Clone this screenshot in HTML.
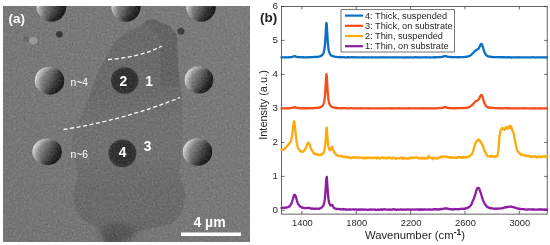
<!DOCTYPE html>
<html>
<head>
<meta charset="utf-8">
<title>Figure</title>
<style>
html,body{margin:0;padding:0;background:#fff;}
body{width:550px;height:245px;overflow:hidden;position:relative;font-family:"Liberation Sans",sans-serif;}
svg{position:absolute;left:0;top:0;display:block;}
text{font-family:"Liberation Sans",sans-serif;}
</style>
</head>
<body>
<svg width="550" height="245" viewBox="0 0 550 245">
<defs>
  <filter id="noise" x="0" y="0" width="100%" height="100%">
    <feTurbulence type="fractalNoise" baseFrequency="0.5" numOctaves="2" seed="4" result="n"/>
    <feColorMatrix in="n" type="matrix" values="0 0 0 0 0  0 0 0 0 0  0 0 0 0 0  0.2 0.2 0 0 -0.18" result="a"/>
    <feComposite in="a" in2="SourceGraphic" operator="in"/>
  </filter>
  <filter id="noiseW" x="0" y="0" width="100%" height="100%">
    <feTurbulence type="fractalNoise" baseFrequency="0.5" numOctaves="2" seed="11" result="n"/>
    <feColorMatrix in="n" type="matrix" values="0 0 0 0 1  0 0 0 0 1  0 0 0 0 1  0.2 0.2 0 0 -0.18" result="a"/>
    <feComposite in="a" in2="SourceGraphic" operator="in"/>
  </filter>
  <filter id="b1"><feGaussianBlur stdDeviation="0.55"/></filter>
  <filter id="b2"><feGaussianBlur stdDeviation="1.6"/></filter>
  <filter id="b3"><feGaussianBlur stdDeviation="3"/></filter>
  <linearGradient id="bg" x1="0" y1="1" x2="1" y2="0">
    <stop offset="0" stop-color="#747474"/>
    <stop offset="1" stop-color="#7b7b7b"/>
  </linearGradient>
  <linearGradient id="hole" x1="0.03" y1="0.28" x2="0.97" y2="0.72">
    <stop offset="0" stop-color="#c4c4c4"/>
    <stop offset="0.08" stop-color="#aeaeae"/>
    <stop offset="0.2" stop-color="#8e8e8e"/>
    <stop offset="0.38" stop-color="#727272"/>
    <stop offset="0.54" stop-color="#565656"/>
    <stop offset="0.68" stop-color="#3a3a3a"/>
    <stop offset="0.82" stop-color="#2b2b2b"/>
    <stop offset="1" stop-color="#242424"/>
  </linearGradient>
  <radialGradient id="lrim" cx="0.66" cy="0.57" r="0.68">
    <stop offset="0" stop-color="#fff" stop-opacity="0"/>
    <stop offset="0.62" stop-color="#fff" stop-opacity="0"/>
    <stop offset="0.85" stop-color="#fff" stop-opacity="0.26"/>
    <stop offset="1" stop-color="#fff" stop-opacity="0.55"/>
  </radialGradient>
  <radialGradient id="rim" cx="0.36" cy="0.38" r="0.68">
    <stop offset="0" stop-color="#000" stop-opacity="0"/>
    <stop offset="0.62" stop-color="#000" stop-opacity="0"/>
    <stop offset="1" stop-color="#000" stop-opacity="0.4"/>
  </radialGradient>
  <radialGradient id="holeT" cx="0.25" cy="0.45" r="0.9">
    <stop offset="0" stop-color="#8c8c8c"/>
    <stop offset="0.4" stop-color="#666"/>
    <stop offset="0.8" stop-color="#3a3a3a"/>
    <stop offset="1" stop-color="#2a2a2a"/>
  </radialGradient>
  <radialGradient id="dark" cx="0.5" cy="0.5" r="0.5">
    <stop offset="0" stop-color="#2b2b2b"/>
    <stop offset="0.8" stop-color="#2f2f2f"/>
    <stop offset="1" stop-color="#383838"/>
  </radialGradient>
  <linearGradient id="flk" gradientUnits="userSpaceOnUse" x1="0" y1="19" x2="0" y2="244">
    <stop offset="0" stop-color="#696969"/>
    <stop offset="0.33" stop-color="#6b6b6b"/>
    <stop offset="0.46" stop-color="#707070"/>
    <stop offset="0.62" stop-color="#6f6f6f"/>
    <stop offset="0.74" stop-color="#6b6b6b"/>
    <stop offset="1" stop-color="#686868"/>
  </linearGradient>
  <clipPath id="sem"><rect x="3" y="6" width="247" height="236"/></clipPath>
</defs>

<!-- SEM panel -->
<g clip-path="url(#sem)">
  <rect x="3" y="6" width="247" height="236" fill="url(#bg)"/>
  <!-- flake -->
  <g filter="url(#b1)">
    <path d="M98.7,70 L114.4,42.5 L126,32 L140.5,26.4 L145.7,20.4 L153.5,19 L160,22 L169,25.6 L177,34.7 L178.4,70 L182,96 L182.5,116 L182,142 L179,174 L186,194.7 L182,212 L172,224 L154.6,227.7 L132,233 L130,244 L104,244 L101,229.4 L87,222.5 L76.5,212 L73,195 L78,174 L72,150 L72,132 L80,118 L90,95 Z" fill="url(#flk)"/>
    <path d="M145,21 L153.5,19 L169,25.6 L177,34.7 L179,86 L160,86 L160,40 Z" fill="#5f5f5f" opacity="0.55"/>
  </g>
  <ellipse cx="118" cy="232" rx="19" ry="9" fill="#4c4c4c" opacity="0.6" filter="url(#b3)"/>
  <ellipse cx="113" cy="240" rx="8" ry="5" fill="#444" opacity="0.5" filter="url(#b2)"/>
  <!-- holes -->
  <g filter="url(#b1)">
    <ellipse cx="51.4" cy="6.5" rx="14.8" ry="15.2" fill="url(#hole)"/>
    <ellipse cx="51.4" cy="6.5" rx="14.8" ry="15.2" fill="url(#rim)"/>
    <ellipse cx="51.4" cy="6.5" rx="14.8" ry="15.2" fill="url(#lrim)"/>
    <ellipse cx="126" cy="6.5" rx="14.6" ry="15.2" fill="url(#hole)"/>
    <ellipse cx="126" cy="6.5" rx="14.6" ry="15.2" fill="url(#rim)"/>
    <ellipse cx="126" cy="6.5" rx="14.6" ry="15.2" fill="url(#lrim)"/>
    <ellipse cx="201" cy="6.5" rx="14.8" ry="15.2" fill="url(#hole)"/>
    <ellipse cx="201" cy="6.5" rx="14.8" ry="15.2" fill="url(#rim)"/>
    <ellipse cx="201" cy="6.5" rx="14.8" ry="15.2" fill="url(#lrim)"/>
    <ellipse cx="49.5" cy="80.7" rx="14.7" ry="14.0" fill="url(#hole)"/>
    <ellipse cx="49.5" cy="80.7" rx="14.7" ry="14.0" fill="url(#rim)"/>
    <ellipse cx="49.5" cy="80.7" rx="14.7" ry="14.0" fill="url(#lrim)"/>
    <ellipse cx="199" cy="79.9" rx="14.3" ry="13.6" fill="url(#hole)"/>
    <ellipse cx="199" cy="79.9" rx="14.3" ry="13.6" fill="url(#rim)"/>
    <ellipse cx="199" cy="79.9" rx="14.3" ry="13.6" fill="url(#lrim)"/>
    <ellipse cx="47.1" cy="151.8" rx="14.7" ry="13.2" fill="url(#hole)"/>
    <ellipse cx="47.1" cy="151.8" rx="14.7" ry="13.2" fill="url(#rim)"/>
    <ellipse cx="47.1" cy="151.8" rx="14.7" ry="13.2" fill="url(#lrim)"/>
    <ellipse cx="197.5" cy="152" rx="14.7" ry="13.8" fill="url(#hole)"/>
    <ellipse cx="197.5" cy="152" rx="14.7" ry="13.8" fill="url(#rim)"/>
    <ellipse cx="197.5" cy="152" rx="14.7" ry="13.8" fill="url(#lrim)"/>
    <ellipse cx="124.7" cy="80.5" rx="13.7" ry="13.3" fill="url(#dark)"/>
    <circle cx="122.4" cy="153.3" r="13.9" fill="url(#dark)"/>
    <circle cx="59.5" cy="34.2" r="3.3" fill="#363636"/>
    <circle cx="181" cy="31.3" r="3.5" fill="#3e3e3e"/>
    <ellipse cx="33.2" cy="40.6" rx="4.2" ry="3.8" fill="#aaa" opacity="0.7" filter="url(#b1)"/>
    <ellipse cx="26" cy="39.3" rx="3" ry="3.2" fill="#5c5c5c" opacity="0.55" filter="url(#b1)"/>
  </g>
  <rect x="3" y="6" width="247" height="236" fill="#000" filter="url(#noise)"/>
  <rect x="3" y="6" width="247" height="236" fill="#fff" filter="url(#noiseW)"/>
  <!-- dashed lines -->
  <path d="M108,59.5 Q140,57.5 162,46" fill="none" stroke="#fff" stroke-width="1.3" stroke-dasharray="4 2.6"/>
  <path d="M63.5,129.5 Q124,120 180,97.5" fill="none" stroke="#fff" stroke-width="1.3" stroke-dasharray="4 2.6"/>
  <!-- labels -->
  <g fill="#fff">
    <text x="8.5" y="22.5" font-size="13.5" font-weight="bold">(a)</text>
    <text x="70.5" y="85.5" font-size="10.3">n~4</text>
    <text x="70.5" y="158" font-size="10.3">n~6</text>
    <text x="123.4" y="85.9" font-size="13.8" font-weight="bold" text-anchor="middle">2</text>
    <text x="149" y="85.9" font-size="13.8" font-weight="bold" text-anchor="middle">1</text>
    <text x="122.7" y="157.3" font-size="13.8" font-weight="bold" text-anchor="middle">4</text>
    <text x="147.6" y="150.6" font-size="13.8" font-weight="bold" text-anchor="middle">3</text>
    <text x="209.5" y="227.4" font-size="14" font-weight="bold" text-anchor="middle">4 µm</text>
    <rect x="181" y="232.5" width="60" height="3.5"/>
  </g>
</g>

<!-- Chart panel -->
<g>
  <rect x="281.5" y="6.4" width="265.7" height="207.7" fill="#fff" stroke="#303030" stroke-width="0.75"/>
  <path d="M301.88,214.1 v-3.1 M301.88,6.4 v3.1 M356.25,214.1 v-3.1 M356.25,6.4 v3.1 M410.61,214.1 v-3.1 M410.61,6.4 v3.1 M464.97,214.1 v-3.1 M464.97,6.4 v3.1 M519.33,214.1 v-3.1 M519.33,6.4 v3.1 M281.5,210.40 h3.1 M547.2,210.40 h-3.1 M281.5,176.40 h3.1 M547.2,176.40 h-3.1 M281.5,142.40 h3.1 M547.2,142.40 h-3.1 M281.5,108.40 h3.1 M547.2,108.40 h-3.1 M281.5,74.40 h3.1 M547.2,74.40 h-3.1 M281.5,40.40 h3.1 M547.2,40.40 h-3.1 M281.5,6.40 h3.1 M547.2,6.40 h-3.1 " stroke="#303030" stroke-width="0.7" fill="none"/>
  <g fill="none" stroke-width="2.3" stroke-linejoin="round" stroke-linecap="round">
    <path d="M281.50,57.25 L281.91,57.38 L282.32,57.46 L282.72,57.36 L283.13,57.40 L283.54,57.38 L283.95,57.46 L284.35,57.46 L284.76,57.39 L285.17,57.21 L285.58,57.15 L285.98,57.33 L286.39,57.35 L286.80,57.36 L287.21,57.40 L287.62,57.38 L288.02,57.29 L288.43,57.27 L288.84,57.24 L289.25,57.22 L289.65,57.25 L290.06,57.14 L290.47,57.09 L290.88,57.16 L291.28,57.16 L291.69,57.05 L292.10,56.87 L292.51,56.82 L292.92,56.81 L293.32,56.59 L293.73,56.44 L294.14,56.33 L294.55,56.14 L294.95,56.12 L295.36,56.29 L295.77,56.47 L296.18,56.79 L296.58,56.91 L296.99,56.92 L297.40,57.14 L297.81,57.14 L298.22,57.07 L298.62,57.14 L299.03,57.26 L299.44,57.25 L299.85,57.22 L300.25,57.16 L300.66,57.13 L301.07,57.20 L301.48,57.19 L301.88,57.21 L302.29,57.32 L302.70,57.28 L303.11,57.21 L303.52,57.25 L303.92,57.32 L304.33,57.30 L304.74,57.38 L305.15,57.36 L305.55,57.20 L305.96,57.32 L306.37,57.34 L306.78,57.30 L307.19,57.26 L307.59,57.31 L308.00,57.39 L308.41,57.25 L308.82,57.14 L309.22,57.28 L309.63,57.36 L310.04,57.22 L310.45,57.22 L310.85,57.15 L311.26,57.17 L311.67,57.22 L312.08,57.20 L312.49,57.13 L312.89,57.07 L313.30,57.14 L313.71,57.21 L314.12,57.09 L314.52,56.94 L314.93,56.97 L315.34,56.92 L315.75,56.92 L316.15,56.98 L316.56,57.00 L316.97,56.97 L317.38,56.81 L317.79,56.79 L318.19,56.83 L318.60,56.71 L319.01,56.59 L319.42,56.45 L319.82,56.41 L320.23,56.40 L320.64,56.18 L321.05,55.83 L321.45,55.55 L321.86,55.30 L322.27,54.97 L322.68,54.47 L323.09,53.80 L323.49,52.86 L323.90,51.61 L324.31,49.79 L324.72,47.01 L325.12,42.82 L325.53,36.69 L325.94,28.86 L326.35,22.98 L326.75,24.38 L327.16,31.66 L327.57,39.12 L327.98,44.48 L328.39,48.06 L328.79,50.55 L329.20,52.14 L329.61,53.11 L330.02,54.06 L330.42,54.77 L330.83,55.20 L331.24,55.50 L331.65,55.71 L332.05,55.83 L332.46,56.05 L332.87,56.27 L333.28,56.37 L333.69,56.43 L334.09,56.48 L334.50,56.58 L334.91,56.74 L335.32,56.88 L335.72,56.91 L336.13,56.87 L336.54,56.83 L336.95,56.96 L337.35,57.05 L337.76,57.03 L338.17,57.07 L338.58,57.16 L338.99,57.12 L339.39,56.97 L339.80,57.02 L340.21,57.19 L340.62,57.25 L341.02,57.30 L341.43,57.23 L341.84,57.13 L342.25,57.16 L342.65,57.20 L343.06,57.20 L343.47,57.22 L343.88,57.31 L344.29,57.35 L344.69,57.27 L345.10,57.29 L345.51,57.33 L345.92,57.34 L346.32,57.34 L346.73,57.25 L347.14,57.26 L347.55,57.32 L347.96,57.26 L348.36,57.22 L348.77,57.18 L349.18,57.32 L349.59,57.37 L349.99,57.29 L350.40,57.33 L350.81,57.27 L351.22,57.22 L351.62,57.21 L352.03,57.26 L352.44,57.23 L352.85,57.26 L353.26,57.35 L353.66,57.30 L354.07,57.32 L354.48,57.25 L354.89,57.17 L355.29,57.17 L355.70,57.23 L356.11,57.36 L356.52,57.35 L356.92,57.30 L357.33,57.34 L357.74,57.36 L358.15,57.33 L358.56,57.27 L358.96,57.30 L359.37,57.33 L359.78,57.33 L360.19,57.43 L360.59,57.44 L361.00,57.45 L361.41,57.41 L361.82,57.30 L362.22,57.30 L362.63,57.32 L363.04,57.24 L363.45,57.26 L363.86,57.34 L364.26,57.36 L364.67,57.46 L365.08,57.40 L365.49,57.41 L365.89,57.42 L366.30,57.33 L366.71,57.31 L367.12,57.31 L367.52,57.41 L367.93,57.39 L368.34,57.38 L368.75,57.40 L369.16,57.37 L369.56,57.37 L369.97,57.38 L370.38,57.42 L370.79,57.42 L371.19,57.49 L371.60,57.49 L372.01,57.44 L372.42,57.37 L372.82,57.25 L373.23,57.40 L373.64,57.46 L374.05,57.37 L374.46,57.43 L374.86,57.40 L375.27,57.37 L375.68,57.49 L376.09,57.48 L376.49,57.39 L376.90,57.37 L377.31,57.43 L377.72,57.40 L378.12,57.30 L378.53,57.39 L378.94,57.47 L379.35,57.41 L379.76,57.41 L380.16,57.31 L380.57,57.27 L380.98,57.42 L381.39,57.47 L381.79,57.42 L382.20,57.26 L382.61,57.27 L383.02,57.38 L383.43,57.34 L383.83,57.35 L384.24,57.26 L384.65,57.29 L385.06,57.36 L385.46,57.33 L385.87,57.34 L386.28,57.40 L386.69,57.35 L387.09,57.29 L387.50,57.38 L387.91,57.42 L388.32,57.46 L388.73,57.38 L389.13,57.30 L389.54,57.29 L389.95,57.28 L390.36,57.28 L390.76,57.34 L391.17,57.33 L391.58,57.30 L391.99,57.35 L392.39,57.34 L392.80,57.27 L393.21,57.30 L393.62,57.38 L394.03,57.36 L394.43,57.24 L394.84,57.29 L395.25,57.39 L395.66,57.39 L396.06,57.32 L396.47,57.41 L396.88,57.45 L397.29,57.30 L397.69,57.36 L398.10,57.34 L398.51,57.27 L398.92,57.38 L399.33,57.39 L399.73,57.44 L400.14,57.48 L400.55,57.31 L400.96,57.33 L401.36,57.33 L401.77,57.28 L402.18,57.33 L402.59,57.32 L402.99,57.49 L403.40,57.52 L403.81,57.39 L404.22,57.42 L404.63,57.50 L405.03,57.42 L405.44,57.39 L405.85,57.49 L406.26,57.49 L406.66,57.36 L407.07,57.35 L407.48,57.35 L407.89,57.25 L408.29,57.29 L408.70,57.43 L409.11,57.50 L409.52,57.44 L409.93,57.33 L410.33,57.31 L410.74,57.33 L411.15,57.37 L411.56,57.38 L411.96,57.38 L412.37,57.41 L412.78,57.45 L413.19,57.52 L413.59,57.47 L414.00,57.45 L414.41,57.47 L414.82,57.38 L415.23,57.34 L415.63,57.22 L416.04,57.17 L416.45,57.35 L416.86,57.36 L417.26,57.31 L417.67,57.38 L418.08,57.34 L418.49,57.35 L418.89,57.56 L419.30,57.48 L419.71,57.35 L420.12,57.32 L420.53,57.32 L420.93,57.45 L421.34,57.34 L421.75,57.33 L422.16,57.40 L422.56,57.27 L422.97,57.28 L423.38,57.35 L423.79,57.35 L424.19,57.31 L424.60,57.35 L425.01,57.36 L425.42,57.29 L425.83,57.20 L426.23,57.25 L426.64,57.41 L427.05,57.35 L427.46,57.33 L427.86,57.35 L428.27,57.32 L428.68,57.27 L429.09,57.31 L429.50,57.37 L429.90,57.47 L430.31,57.51 L430.72,57.30 L431.13,57.28 L431.53,57.39 L431.94,57.42 L432.35,57.35 L432.76,57.28 L433.16,57.36 L433.57,57.33 L433.98,57.26 L434.39,57.25 L434.80,57.29 L435.20,57.23 L435.61,57.17 L436.02,57.26 L436.43,57.30 L436.83,57.29 L437.24,57.21 L437.65,57.20 L438.06,57.18 L438.46,57.12 L438.87,57.09 L439.28,57.05 L439.69,57.10 L440.10,57.21 L440.50,57.15 L440.91,56.97 L441.32,56.92 L441.73,56.87 L442.13,56.82 L442.54,56.77 L442.95,56.68 L443.36,56.46 L443.76,56.27 L444.17,56.25 L444.58,56.25 L444.99,56.22 L445.40,56.13 L445.80,56.20 L446.21,56.44 L446.62,56.52 L447.03,56.52 L447.43,56.65 L447.84,56.76 L448.25,56.82 L448.66,56.89 L449.06,56.95 L449.47,57.06 L449.88,57.05 L450.29,57.02 L450.70,57.01 L451.10,57.14 L451.51,57.22 L451.92,57.08 L452.33,57.14 L452.73,57.18 L453.14,57.12 L453.55,57.12 L453.96,57.19 L454.36,57.23 L454.77,57.15 L455.18,57.08 L455.59,57.12 L456.00,57.18 L456.40,57.18 L456.81,57.12 L457.22,57.18 L457.63,57.30 L458.03,57.23 L458.44,57.22 L458.85,57.25 L459.26,57.18 L459.66,57.12 L460.07,57.17 L460.48,57.14 L460.89,57.17 L461.30,57.17 L461.70,57.15 L462.11,57.23 L462.52,57.10 L462.93,57.04 L463.33,57.09 L463.74,57.08 L464.15,56.99 L464.56,56.94 L464.97,56.94 L465.37,56.85 L465.78,56.84 L466.19,56.87 L466.60,56.81 L467.00,56.66 L467.41,56.50 L467.82,56.40 L468.23,56.34 L468.63,56.29 L469.04,56.09 L469.45,55.93 L469.86,55.72 L470.27,55.43 L470.67,55.24 L471.08,54.98 L471.49,54.61 L471.90,54.15 L472.30,53.62 L472.71,53.29 L473.12,52.97 L473.53,52.62 L473.93,52.15 L474.34,51.58 L474.75,51.21 L475.16,50.77 L475.57,50.46 L475.97,50.23 L476.38,49.92 L476.79,49.78 L477.20,49.55 L477.60,49.21 L478.01,49.02 L478.42,48.74 L478.83,48.10 L479.23,47.36 L479.64,46.66 L480.05,45.81 L480.46,44.92 L480.87,44.24 L481.27,43.87 L481.68,44.02 L482.09,44.67 L482.50,45.72 L482.90,47.12 L483.31,48.53 L483.72,49.85 L484.13,51.11 L484.53,52.33 L484.94,53.25 L485.35,53.96 L485.76,54.55 L486.17,55.05 L486.57,55.50 L486.98,55.79 L487.39,55.97 L487.80,56.15 L488.20,56.39 L488.61,56.49 L489.02,56.59 L489.43,56.67 L489.83,56.71 L490.24,56.76 L490.65,56.71 L491.06,56.78 L491.47,56.92 L491.87,56.94 L492.28,56.93 L492.69,57.01 L493.10,57.11 L493.50,57.07 L493.91,57.03 L494.32,57.04 L494.73,57.12 L495.13,57.17 L495.54,57.14 L495.95,57.03 L496.36,57.05 L496.77,57.13 L497.17,57.13 L497.58,57.20 L497.99,57.25 L498.40,57.22 L498.80,57.20 L499.21,57.20 L499.62,57.28 L500.03,57.23 L500.43,57.09 L500.84,57.17 L501.25,57.24 L501.66,57.22 L502.07,57.20 L502.47,57.30 L502.88,57.26 L503.29,57.21 L503.70,57.23 L504.10,57.21 L504.51,57.30 L504.92,57.31 L505.33,57.25 L505.74,57.29 L506.14,57.36 L506.55,57.34 L506.96,57.41 L507.37,57.32 L507.77,57.21 L508.18,57.28 L508.59,57.25 L509.00,57.30 L509.40,57.37 L509.81,57.23 L510.22,57.18 L510.63,57.39 L511.04,57.61 L511.44,57.55 L511.85,57.33 L512.26,57.30 L512.67,57.37 L513.07,57.31 L513.48,57.35 L513.89,57.37 L514.30,57.29 L514.70,57.27 L515.11,57.30 L515.52,57.35 L515.93,57.35 L516.34,57.34 L516.74,57.30 L517.15,57.15 L517.56,57.25 L517.97,57.50 L518.37,57.48 L518.78,57.35 L519.19,57.28 L519.60,57.24 L520.00,57.34 L520.41,57.43 L520.82,57.33 L521.23,57.35 L521.64,57.36 L522.04,57.31 L522.45,57.33 L522.86,57.28 L523.27,57.28 L523.67,57.28 L524.08,57.37 L524.49,57.40 L524.90,57.35 L525.30,57.35 L525.71,57.28 L526.12,57.31 L526.53,57.41 L526.94,57.44 L527.34,57.42 L527.75,57.34 L528.16,57.37 L528.57,57.35 L528.97,57.29 L529.38,57.36 L529.79,57.45 L530.20,57.42 L530.60,57.32 L531.01,57.42 L531.42,57.40 L531.83,57.23 L532.24,57.27 L532.64,57.33 L533.05,57.22 L533.46,57.19 L533.87,57.36 L534.27,57.42 L534.68,57.38 L535.09,57.39 L535.50,57.50 L535.90,57.46 L536.31,57.37 L536.72,57.40 L537.13,57.37 L537.54,57.34 L537.94,57.35 L538.35,57.43 L538.76,57.39 L539.17,57.28 L539.57,57.32 L539.98,57.32 L540.39,57.29 L540.80,57.39 L541.20,57.33 L541.61,57.34 L542.02,57.37 L542.43,57.35 L542.84,57.38 L543.24,57.42 L543.65,57.49 L544.06,57.37 L544.47,57.32 L544.87,57.37 L545.28,57.40 L545.69,57.38 L546.10,57.43 L546.50,57.51 L546.91,57.45" stroke="#0A70C4"/>
    <path d="M281.50,108.40 L281.91,108.43 L282.32,108.39 L282.72,108.36 L283.13,108.37 L283.54,108.27 L283.95,108.21 L284.35,108.23 L284.76,108.28 L285.17,108.36 L285.58,108.43 L285.98,108.42 L286.39,108.45 L286.80,108.45 L287.21,108.30 L287.62,108.18 L288.02,108.16 L288.43,108.28 L288.84,108.29 L289.25,108.27 L289.65,108.24 L290.06,108.18 L290.47,108.16 L290.88,107.99 L291.28,107.94 L291.69,107.90 L292.10,107.87 L292.51,107.91 L292.92,107.73 L293.32,107.47 L293.73,107.39 L294.14,107.30 L294.55,107.24 L294.95,107.27 L295.36,107.29 L295.77,107.46 L296.18,107.71 L296.58,107.92 L296.99,107.98 L297.40,107.95 L297.81,108.00 L298.22,108.07 L298.62,108.20 L299.03,108.15 L299.44,108.11 L299.85,108.23 L300.25,108.20 L300.66,108.31 L301.07,108.36 L301.48,108.26 L301.88,108.25 L302.29,108.17 L302.70,108.17 L303.11,108.34 L303.52,108.38 L303.92,108.27 L304.33,108.25 L304.74,108.32 L305.15,108.42 L305.55,108.32 L305.96,108.22 L306.37,108.24 L306.78,108.34 L307.19,108.25 L307.59,108.30 L308.00,108.41 L308.41,108.15 L308.82,108.13 L309.22,108.22 L309.63,108.27 L310.04,108.20 L310.45,108.20 L310.85,108.25 L311.26,108.17 L311.67,108.22 L312.08,108.17 L312.49,108.18 L312.89,108.24 L313.30,108.16 L313.71,108.13 L314.12,108.08 L314.52,108.00 L314.93,108.01 L315.34,108.06 L315.75,108.05 L316.15,108.01 L316.56,107.90 L316.97,107.86 L317.38,107.83 L317.79,107.77 L318.19,107.78 L318.60,107.66 L319.01,107.59 L319.42,107.54 L319.82,107.30 L320.23,107.23 L320.64,107.15 L321.05,106.98 L321.45,106.76 L321.86,106.45 L322.27,106.06 L322.68,105.51 L323.09,104.82 L323.49,103.80 L323.90,102.51 L324.31,100.71 L324.72,97.98 L325.12,93.86 L325.53,87.78 L325.94,80.13 L326.35,74.27 L326.75,75.45 L327.16,82.52 L327.57,90.01 L327.98,95.37 L328.39,98.99 L328.79,101.51 L329.20,103.18 L329.61,104.34 L330.02,105.11 L330.42,105.56 L330.83,106.02 L331.24,106.53 L331.65,106.82 L332.05,107.01 L332.46,107.24 L332.87,107.38 L333.28,107.38 L333.69,107.47 L334.09,107.57 L334.50,107.72 L334.91,107.91 L335.32,107.83 L335.72,107.74 L336.13,107.93 L336.54,108.01 L336.95,107.96 L337.35,107.98 L337.76,108.00 L338.17,108.07 L338.58,108.10 L338.99,108.08 L339.39,108.11 L339.80,108.23 L340.21,108.40 L340.62,108.36 L341.02,108.30 L341.43,108.26 L341.84,108.15 L342.25,108.16 L342.65,108.22 L343.06,108.24 L343.47,108.17 L343.88,108.22 L344.29,108.24 L344.69,108.17 L345.10,108.21 L345.51,108.18 L345.92,108.23 L346.32,108.27 L346.73,108.28 L347.14,108.37 L347.55,108.38 L347.96,108.32 L348.36,108.32 L348.77,108.35 L349.18,108.36 L349.59,108.31 L349.99,108.16 L350.40,108.21 L350.81,108.22 L351.22,108.21 L351.62,108.18 L352.03,108.21 L352.44,108.40 L352.85,108.33 L353.26,108.26 L353.66,108.39 L354.07,108.42 L354.48,108.45 L354.89,108.43 L355.29,108.40 L355.70,108.32 L356.11,108.23 L356.52,108.39 L356.92,108.50 L357.33,108.45 L357.74,108.47 L358.15,108.45 L358.56,108.36 L358.96,108.39 L359.37,108.42 L359.78,108.35 L360.19,108.25 L360.59,108.20 L361.00,108.28 L361.41,108.31 L361.82,108.35 L362.22,108.37 L362.63,108.39 L363.04,108.37 L363.45,108.38 L363.86,108.47 L364.26,108.41 L364.67,108.33 L365.08,108.41 L365.49,108.46 L365.89,108.38 L366.30,108.34 L366.71,108.39 L367.12,108.40 L367.52,108.37 L367.93,108.31 L368.34,108.27 L368.75,108.41 L369.16,108.55 L369.56,108.47 L369.97,108.30 L370.38,108.30 L370.79,108.31 L371.19,108.35 L371.60,108.46 L372.01,108.40 L372.42,108.33 L372.82,108.33 L373.23,108.41 L373.64,108.43 L374.05,108.39 L374.46,108.36 L374.86,108.36 L375.27,108.43 L375.68,108.43 L376.09,108.34 L376.49,108.31 L376.90,108.41 L377.31,108.46 L377.72,108.48 L378.12,108.35 L378.53,108.39 L378.94,108.51 L379.35,108.38 L379.76,108.28 L380.16,108.32 L380.57,108.34 L380.98,108.30 L381.39,108.29 L381.79,108.32 L382.20,108.29 L382.61,108.28 L383.02,108.28 L383.43,108.35 L383.83,108.38 L384.24,108.39 L384.65,108.51 L385.06,108.42 L385.46,108.39 L385.87,108.39 L386.28,108.40 L386.69,108.35 L387.09,108.29 L387.50,108.43 L387.91,108.42 L388.32,108.32 L388.73,108.37 L389.13,108.38 L389.54,108.24 L389.95,108.22 L390.36,108.33 L390.76,108.40 L391.17,108.37 L391.58,108.42 L391.99,108.60 L392.39,108.56 L392.80,108.46 L393.21,108.34 L393.62,108.27 L394.03,108.41 L394.43,108.48 L394.84,108.40 L395.25,108.39 L395.66,108.44 L396.06,108.40 L396.47,108.37 L396.88,108.36 L397.29,108.36 L397.69,108.30 L398.10,108.22 L398.51,108.37 L398.92,108.32 L399.33,108.23 L399.73,108.30 L400.14,108.34 L400.55,108.39 L400.96,108.34 L401.36,108.35 L401.77,108.32 L402.18,108.29 L402.59,108.39 L402.99,108.42 L403.40,108.34 L403.81,108.29 L404.22,108.35 L404.63,108.40 L405.03,108.39 L405.44,108.43 L405.85,108.49 L406.26,108.35 L406.66,108.31 L407.07,108.38 L407.48,108.40 L407.89,108.34 L408.29,108.21 L408.70,108.29 L409.11,108.35 L409.52,108.38 L409.93,108.31 L410.33,108.23 L410.74,108.36 L411.15,108.34 L411.56,108.28 L411.96,108.32 L412.37,108.32 L412.78,108.38 L413.19,108.42 L413.59,108.36 L414.00,108.33 L414.41,108.41 L414.82,108.30 L415.23,108.27 L415.63,108.40 L416.04,108.42 L416.45,108.36 L416.86,108.27 L417.26,108.30 L417.67,108.30 L418.08,108.39 L418.49,108.45 L418.89,108.40 L419.30,108.38 L419.71,108.33 L420.12,108.43 L420.53,108.30 L420.93,108.24 L421.34,108.38 L421.75,108.29 L422.16,108.27 L422.56,108.29 L422.97,108.49 L423.38,108.55 L423.79,108.37 L424.19,108.36 L424.60,108.45 L425.01,108.52 L425.42,108.40 L425.83,108.26 L426.23,108.36 L426.64,108.39 L427.05,108.35 L427.46,108.40 L427.86,108.41 L428.27,108.34 L428.68,108.29 L429.09,108.24 L429.50,108.27 L429.90,108.35 L430.31,108.33 L430.72,108.34 L431.13,108.42 L431.53,108.33 L431.94,108.28 L432.35,108.33 L432.76,108.27 L433.16,108.33 L433.57,108.33 L433.98,108.24 L434.39,108.28 L434.80,108.28 L435.20,108.30 L435.61,108.43 L436.02,108.40 L436.43,108.32 L436.83,108.26 L437.24,108.19 L437.65,108.24 L438.06,108.24 L438.46,108.13 L438.87,108.06 L439.28,108.08 L439.69,108.09 L440.10,108.10 L440.50,108.09 L440.91,108.00 L441.32,107.94 L441.73,107.89 L442.13,107.86 L442.54,107.86 L442.95,107.78 L443.36,107.59 L443.76,107.30 L444.17,107.10 L444.58,107.14 L444.99,107.27 L445.40,107.23 L445.80,107.23 L446.21,107.47 L446.62,107.57 L447.03,107.61 L447.43,107.69 L447.84,107.77 L448.25,107.86 L448.66,107.91 L449.06,108.05 L449.47,108.11 L449.88,108.13 L450.29,108.10 L450.70,108.13 L451.10,108.27 L451.51,108.20 L451.92,108.07 L452.33,108.04 L452.73,108.05 L453.14,108.21 L453.55,108.30 L453.96,108.25 L454.36,108.22 L454.77,108.30 L455.18,108.30 L455.59,108.18 L456.00,108.22 L456.40,108.23 L456.81,108.12 L457.22,108.12 L457.63,108.12 L458.03,108.07 L458.44,108.09 L458.85,108.12 L459.26,108.15 L459.66,108.10 L460.07,108.10 L460.48,108.19 L460.89,108.12 L461.30,108.11 L461.70,108.11 L462.11,108.01 L462.52,108.01 L462.93,108.04 L463.33,107.98 L463.74,107.93 L464.15,108.03 L464.56,108.11 L464.97,107.93 L465.37,107.81 L465.78,107.94 L466.19,107.98 L466.60,107.82 L467.00,107.74 L467.41,107.64 L467.82,107.49 L468.23,107.38 L468.63,107.31 L469.04,107.15 L469.45,106.81 L469.86,106.68 L470.27,106.48 L470.67,106.12 L471.08,105.85 L471.49,105.57 L471.90,105.30 L472.30,104.94 L472.71,104.42 L473.12,103.88 L473.53,103.39 L473.93,102.93 L474.34,102.49 L474.75,102.13 L475.16,101.84 L475.57,101.47 L475.97,101.10 L476.38,100.88 L476.79,100.79 L477.20,100.63 L477.60,100.40 L478.01,100.07 L478.42,99.64 L478.83,99.12 L479.23,98.38 L479.64,97.57 L480.05,96.66 L480.46,95.88 L480.87,95.39 L481.27,94.96 L481.68,94.95 L482.09,95.63 L482.50,96.79 L482.90,98.18 L483.31,99.58 L483.72,101.03 L484.13,102.30 L484.53,103.30 L484.94,104.24 L485.35,104.94 L485.76,105.62 L486.17,106.24 L486.57,106.50 L486.98,106.81 L487.39,107.15 L487.80,107.37 L488.20,107.49 L488.61,107.45 L489.02,107.48 L489.43,107.61 L489.83,107.72 L490.24,107.75 L490.65,107.77 L491.06,107.90 L491.47,107.96 L491.87,107.94 L492.28,107.89 L492.69,107.93 L493.10,107.98 L493.50,107.90 L493.91,107.99 L494.32,108.17 L494.73,108.10 L495.13,108.03 L495.54,108.10 L495.95,108.12 L496.36,108.14 L496.77,108.14 L497.17,108.15 L497.58,108.15 L497.99,108.20 L498.40,108.29 L498.80,108.24 L499.21,108.23 L499.62,108.20 L500.03,108.19 L500.43,108.26 L500.84,108.25 L501.25,108.26 L501.66,108.35 L502.07,108.39 L502.47,108.35 L502.88,108.33 L503.29,108.28 L503.70,108.22 L504.10,108.20 L504.51,108.16 L504.92,108.12 L505.33,108.23 L505.74,108.21 L506.14,108.15 L506.55,108.26 L506.96,108.30 L507.37,108.23 L507.77,108.23 L508.18,108.24 L508.59,108.23 L509.00,108.25 L509.40,108.29 L509.81,108.31 L510.22,108.31 L510.63,108.30 L511.04,108.37 L511.44,108.39 L511.85,108.24 L512.26,108.23 L512.67,108.30 L513.07,108.30 L513.48,108.34 L513.89,108.42 L514.30,108.39 L514.70,108.36 L515.11,108.29 L515.52,108.33 L515.93,108.33 L516.34,108.37 L516.74,108.46 L517.15,108.38 L517.56,108.28 L517.97,108.32 L518.37,108.48 L518.78,108.43 L519.19,108.33 L519.60,108.40 L520.00,108.46 L520.41,108.44 L520.82,108.38 L521.23,108.31 L521.64,108.39 L522.04,108.31 L522.45,108.24 L522.86,108.37 L523.27,108.34 L523.67,108.32 L524.08,108.23 L524.49,108.18 L524.90,108.32 L525.30,108.40 L525.71,108.40 L526.12,108.40 L526.53,108.34 L526.94,108.36 L527.34,108.31 L527.75,108.28 L528.16,108.37 L528.57,108.32 L528.97,108.42 L529.38,108.51 L529.79,108.38 L530.20,108.33 L530.60,108.37 L531.01,108.35 L531.42,108.38 L531.83,108.41 L532.24,108.45 L532.64,108.53 L533.05,108.40 L533.46,108.35 L533.87,108.45 L534.27,108.33 L534.68,108.24 L535.09,108.34 L535.50,108.42 L535.90,108.40 L536.31,108.42 L536.72,108.39 L537.13,108.34 L537.54,108.36 L537.94,108.33 L538.35,108.30 L538.76,108.24 L539.17,108.20 L539.57,108.38 L539.98,108.42 L540.39,108.39 L540.80,108.50 L541.20,108.41 L541.61,108.37 L542.02,108.43 L542.43,108.34 L542.84,108.36 L543.24,108.46 L543.65,108.41 L544.06,108.30 L544.47,108.29 L544.87,108.43 L545.28,108.49 L545.69,108.42 L546.10,108.29 L546.50,108.23 L546.91,108.29" stroke="#F64C18"/>
    <path d="M281.50,149.77 L281.91,149.77 L282.32,149.87 L282.72,149.59 L283.13,149.81 L283.54,149.78 L283.95,149.21 L284.35,149.21 L284.76,148.85 L285.17,148.06 L285.58,147.60 L285.98,147.52 L286.39,147.27 L286.80,146.25 L287.21,145.60 L287.62,145.65 L288.02,145.32 L288.43,144.34 L288.84,143.98 L289.25,143.78 L289.65,142.67 L290.06,142.20 L290.47,142.11 L290.88,141.37 L291.28,140.18 L291.69,137.78 L292.10,135.25 L292.51,132.80 L292.92,129.35 L293.32,125.33 L293.73,122.03 L294.14,121.27 L294.55,122.81 L294.95,126.24 L295.36,130.65 L295.77,134.66 L296.18,138.28 L296.58,141.50 L296.99,144.06 L297.40,145.68 L297.81,147.39 L298.22,148.59 L298.62,149.03 L299.03,149.49 L299.44,150.15 L299.85,150.84 L300.25,151.10 L300.66,151.45 L301.07,151.68 L301.48,151.48 L301.88,151.38 L302.29,151.69 L302.70,151.73 L303.11,151.81 L303.52,151.30 L303.92,150.61 L304.33,150.33 L304.74,149.95 L305.15,149.39 L305.55,148.26 L305.96,147.10 L306.37,146.51 L306.78,145.44 L307.19,144.05 L307.59,143.48 L308.00,142.68 L308.41,142.38 L308.82,142.88 L309.22,143.76 L309.63,144.73 L310.04,145.78 L310.45,147.11 L310.85,148.51 L311.26,149.62 L311.67,150.20 L312.08,150.55 L312.49,151.31 L312.89,151.84 L313.30,152.31 L313.71,153.30 L314.12,153.49 L314.52,153.75 L314.93,154.05 L315.34,153.77 L315.75,154.11 L316.15,154.53 L316.56,153.99 L316.97,154.01 L317.38,154.60 L317.79,154.52 L318.19,154.64 L318.60,154.86 L319.01,154.74 L319.42,155.26 L319.82,154.96 L320.23,154.58 L320.64,155.07 L321.05,154.56 L321.45,154.13 L321.86,154.34 L322.27,154.03 L322.68,153.66 L323.09,153.43 L323.49,152.92 L323.90,152.13 L324.31,150.51 L324.72,148.56 L325.12,145.91 L325.53,141.51 L325.94,135.37 L326.35,129.06 L326.75,127.66 L327.16,132.52 L327.57,138.93 L327.98,143.83 L328.39,146.68 L328.79,148.38 L329.20,149.24 L329.61,149.81 L330.02,150.11 L330.42,150.14 L330.83,149.81 L331.24,148.70 L331.65,147.33 L332.05,146.59 L332.46,147.14 L332.87,148.78 L333.28,150.05 L333.69,150.90 L334.09,152.31 L334.50,152.95 L334.91,152.98 L335.32,153.20 L335.72,153.95 L336.13,154.94 L336.54,154.74 L336.95,155.08 L337.35,155.64 L337.76,155.65 L338.17,155.88 L338.58,156.23 L338.99,156.18 L339.39,155.63 L339.80,155.59 L340.21,155.82 L340.62,156.12 L341.02,155.98 L341.43,155.86 L341.84,156.04 L342.25,156.61 L342.65,156.85 L343.06,156.83 L343.47,156.89 L343.88,156.64 L344.29,157.04 L344.69,157.11 L345.10,156.61 L345.51,156.59 L345.92,156.77 L346.32,157.14 L346.73,157.48 L347.14,157.58 L347.55,157.42 L347.96,156.91 L348.36,156.88 L348.77,157.19 L349.18,157.59 L349.59,157.51 L349.99,157.33 L350.40,157.91 L350.81,158.29 L351.22,157.95 L351.62,157.77 L352.03,157.32 L352.44,157.12 L352.85,157.78 L353.26,157.92 L353.66,157.32 L354.07,157.44 L354.48,157.66 L354.89,157.34 L355.29,157.19 L355.70,157.19 L356.11,157.64 L356.52,157.66 L356.92,157.56 L357.33,157.47 L357.74,157.51 L358.15,157.28 L358.56,157.30 L358.96,157.68 L359.37,157.82 L359.78,157.90 L360.19,157.75 L360.59,157.75 L361.00,157.55 L361.41,157.73 L361.82,158.15 L362.22,157.77 L362.63,157.64 L363.04,158.07 L363.45,157.74 L363.86,157.40 L364.26,158.31 L364.67,158.59 L365.08,157.78 L365.49,157.50 L365.89,157.82 L366.30,157.65 L366.71,157.72 L367.12,158.15 L367.52,157.94 L367.93,157.89 L368.34,157.73 L368.75,157.50 L369.16,157.70 L369.56,157.62 L369.97,157.77 L370.38,158.16 L370.79,157.59 L371.19,157.52 L371.60,157.68 L372.01,157.81 L372.42,158.13 L372.82,158.06 L373.23,157.96 L373.64,158.02 L374.05,158.06 L374.46,157.82 L374.86,157.54 L375.27,157.68 L375.68,157.81 L376.09,157.62 L376.49,158.04 L376.90,158.63 L377.31,157.99 L377.72,157.31 L378.12,157.68 L378.53,157.91 L378.94,158.15 L379.35,158.57 L379.76,158.27 L380.16,158.30 L380.57,158.16 L380.98,157.97 L381.39,158.12 L381.79,157.50 L382.20,157.13 L382.61,157.65 L383.02,157.85 L383.43,158.03 L383.83,158.42 L384.24,158.09 L384.65,157.63 L385.06,157.86 L385.46,158.06 L385.87,157.90 L386.28,158.33 L386.69,158.39 L387.09,157.73 L387.50,157.73 L387.91,157.96 L388.32,157.75 L388.73,158.04 L389.13,157.95 L389.54,157.42 L389.95,157.33 L390.36,157.38 L390.76,157.87 L391.17,158.32 L391.58,158.40 L391.99,158.48 L392.39,158.48 L392.80,158.03 L393.21,157.50 L393.62,157.89 L394.03,158.04 L394.43,158.19 L394.84,158.46 L395.25,158.40 L395.66,158.71 L396.06,158.47 L396.47,158.06 L396.88,158.17 L397.29,158.32 L397.69,158.46 L398.10,158.36 L398.51,158.27 L398.92,158.19 L399.33,158.33 L399.73,158.34 L400.14,157.93 L400.55,157.69 L400.96,157.56 L401.36,157.81 L401.77,158.23 L402.18,158.71 L402.59,158.55 L402.99,157.78 L403.40,157.38 L403.81,158.32 L404.22,158.90 L404.63,158.38 L405.03,158.45 L405.44,158.32 L405.85,158.07 L406.26,158.23 L406.66,158.25 L407.07,158.51 L407.48,158.73 L407.89,158.57 L408.29,158.12 L408.70,158.30 L409.11,158.56 L409.52,157.99 L409.93,157.95 L410.33,157.95 L410.74,158.09 L411.15,158.18 L411.56,157.81 L411.96,157.38 L412.37,157.43 L412.78,157.62 L413.19,157.79 L413.59,158.10 L414.00,157.73 L414.41,157.62 L414.82,157.65 L415.23,157.62 L415.63,157.46 L416.04,157.06 L416.45,157.76 L416.86,157.89 L417.26,157.59 L417.67,157.91 L418.08,158.04 L418.49,157.99 L418.89,158.22 L419.30,158.57 L419.71,158.49 L420.12,158.24 L420.53,157.84 L420.93,157.74 L421.34,157.87 L421.75,158.18 L422.16,158.69 L422.56,158.45 L422.97,158.00 L423.38,158.01 L423.79,157.70 L424.19,157.83 L424.60,158.22 L425.01,158.73 L425.42,158.55 L425.83,158.01 L426.23,158.32 L426.64,158.21 L427.05,158.29 L427.46,158.51 L427.86,157.78 L428.27,157.14 L428.68,155.90 L429.09,156.42 L429.50,157.67 L429.90,157.93 L430.31,157.54 L430.72,157.60 L431.13,157.97 L431.53,158.00 L431.94,158.26 L432.35,158.79 L432.76,159.16 L433.16,158.21 L433.57,157.39 L433.98,157.86 L434.39,158.22 L434.80,157.96 L435.20,158.18 L435.61,157.89 L436.02,157.88 L436.43,158.46 L436.83,158.85 L437.24,158.29 L437.65,157.58 L438.06,157.52 L438.46,157.72 L438.87,157.98 L439.28,157.67 L439.69,157.64 L440.10,157.09 L440.50,156.52 L440.91,156.61 L441.32,157.16 L441.73,157.19 L442.13,156.69 L442.54,156.68 L442.95,156.78 L443.36,156.72 L443.76,157.00 L444.17,156.99 L444.58,156.34 L444.99,156.59 L445.40,156.92 L445.80,156.47 L446.21,156.81 L446.62,157.05 L447.03,157.15 L447.43,157.30 L447.84,157.27 L448.25,157.39 L448.66,157.23 L449.06,157.15 L449.47,157.15 L449.88,157.73 L450.29,157.37 L450.70,156.94 L451.10,157.64 L451.51,157.78 L451.92,157.51 L452.33,157.64 L452.73,157.86 L453.14,157.77 L453.55,157.57 L453.96,157.65 L454.36,157.69 L454.77,157.44 L455.18,157.58 L455.59,157.37 L456.00,157.32 L456.40,157.89 L456.81,157.81 L457.22,157.49 L457.63,157.55 L458.03,157.50 L458.44,156.91 L458.85,156.89 L459.26,157.32 L459.66,157.41 L460.07,157.18 L460.48,157.11 L460.89,157.59 L461.30,157.84 L461.70,157.50 L462.11,157.01 L462.52,157.48 L462.93,157.81 L463.33,157.25 L463.74,156.81 L464.15,157.25 L464.56,157.57 L464.97,157.03 L465.37,157.03 L465.78,157.31 L466.19,157.28 L466.60,157.44 L467.00,157.26 L467.41,156.82 L467.82,157.11 L468.23,157.08 L468.63,156.38 L469.04,156.23 L469.45,156.10 L469.86,156.07 L470.27,155.70 L470.67,155.41 L471.08,154.85 L471.49,154.21 L471.90,154.14 L472.30,153.42 L472.71,152.37 L473.12,151.17 L473.53,150.00 L473.93,148.66 L474.34,146.98 L474.75,145.35 L475.16,144.28 L475.57,142.98 L475.97,142.04 L476.38,141.66 L476.79,140.99 L477.20,140.15 L477.60,140.03 L478.01,140.50 L478.42,139.99 L478.83,139.52 L479.23,139.83 L479.64,140.94 L480.05,141.63 L480.46,141.48 L480.87,141.91 L481.27,143.03 L481.68,143.77 L482.09,144.54 L482.50,145.61 L482.90,145.67 L483.31,146.27 L483.72,148.25 L484.13,149.90 L484.53,150.54 L484.94,151.37 L485.35,152.28 L485.76,153.12 L486.17,154.02 L486.57,154.41 L486.98,155.10 L487.39,156.01 L487.80,156.36 L488.20,156.32 L488.61,156.28 L489.02,156.28 L489.43,156.36 L489.83,156.31 L490.24,156.58 L490.65,156.42 L491.06,155.77 L491.47,156.04 L491.87,156.49 L492.28,156.29 L492.69,156.19 L493.10,156.45 L493.50,156.65 L493.91,156.87 L494.32,157.10 L494.73,156.76 L495.13,156.19 L495.54,156.57 L495.95,156.81 L496.36,156.39 L496.77,156.23 L497.17,155.96 L497.58,155.07 L497.99,153.53 L498.40,150.31 L498.80,145.59 L499.21,139.63 L499.62,135.12 L500.03,133.42 L500.43,130.79 L500.84,130.04 L501.25,130.04 L501.66,128.73 L502.07,128.29 L502.47,127.91 L502.88,128.87 L503.29,129.22 L503.70,128.84 L504.10,128.76 L504.51,129.17 L504.92,129.95 L505.33,128.69 L505.74,127.25 L506.14,127.48 L506.55,127.74 L506.96,127.90 L507.37,128.28 L507.77,128.97 L508.18,127.87 L508.59,126.27 L509.00,126.54 L509.40,127.11 L509.81,127.98 L510.22,126.98 L510.63,125.96 L511.04,126.33 L511.44,127.22 L511.85,129.10 L512.26,130.63 L512.67,130.89 L513.07,132.09 L513.48,133.11 L513.89,133.88 L514.30,136.89 L514.70,139.34 L515.11,141.31 L515.52,143.00 L515.93,145.27 L516.34,147.28 L516.74,148.52 L517.15,149.95 L517.56,151.01 L517.97,151.45 L518.37,151.86 L518.78,151.98 L519.19,152.64 L519.60,153.93 L520.00,153.85 L520.41,153.72 L520.82,154.17 L521.23,155.00 L521.64,154.78 L522.04,154.33 L522.45,154.74 L522.86,155.16 L523.27,155.22 L523.67,155.33 L524.08,155.58 L524.49,155.59 L524.90,155.39 L525.30,155.54 L525.71,156.00 L526.12,155.69 L526.53,155.62 L526.94,155.94 L527.34,156.11 L527.75,155.92 L528.16,156.07 L528.57,156.22 L528.97,155.62 L529.38,155.68 L529.79,156.38 L530.20,156.79 L530.60,156.60 L531.01,156.63 L531.42,157.07 L531.83,156.98 L532.24,156.88 L532.64,156.52 L533.05,156.62 L533.46,156.47 L533.87,156.32 L534.27,156.68 L534.68,156.36 L535.09,156.35 L535.50,156.35 L535.90,156.65 L536.31,157.37 L536.72,157.20 L537.13,157.07 L537.54,157.17 L537.94,156.55 L538.35,156.47 L538.76,156.85 L539.17,157.08 L539.57,157.01 L539.98,156.79 L540.39,157.10 L540.80,157.00 L541.20,156.89 L541.61,156.91 L542.02,156.77 L542.43,156.59 L542.84,156.28 L543.24,156.52 L543.65,156.75 L544.06,156.66 L544.47,156.31 L544.87,156.16 L545.28,156.45 L545.69,156.63 L546.10,156.30 L546.50,156.76 L546.91,157.01" stroke="#FDAA0C"/>
    <path d="M281.50,207.89 L281.91,207.66 L282.32,207.85 L282.72,207.93 L283.13,207.76 L283.54,207.85 L283.95,207.77 L284.35,207.58 L284.76,207.73 L285.17,207.75 L285.58,207.54 L285.98,207.53 L286.39,207.64 L286.80,207.39 L287.21,207.33 L287.62,207.35 L288.02,206.98 L288.43,206.74 L288.84,206.81 L289.25,206.64 L289.65,206.11 L290.06,205.66 L290.47,205.05 L290.88,204.34 L291.28,203.62 L291.69,202.72 L292.10,201.54 L292.51,200.19 L292.92,199.10 L293.32,197.55 L293.73,196.05 L294.14,195.13 L294.55,194.70 L294.95,194.95 L295.36,195.63 L295.77,196.65 L296.18,197.83 L296.58,199.38 L296.99,200.84 L297.40,202.00 L297.81,203.11 L298.22,204.08 L298.62,204.79 L299.03,205.25 L299.44,205.68 L299.85,206.32 L300.25,206.64 L300.66,206.75 L301.07,206.90 L301.48,207.22 L301.88,207.50 L302.29,207.37 L302.70,207.57 L303.11,207.92 L303.52,207.91 L303.92,207.98 L304.33,208.08 L304.74,208.10 L305.15,208.19 L305.55,208.04 L305.96,207.98 L306.37,208.15 L306.78,208.10 L307.19,207.98 L307.59,207.89 L308.00,207.77 L308.41,207.63 L308.82,207.89 L309.22,208.16 L309.63,208.30 L310.04,208.34 L310.45,208.19 L310.85,208.37 L311.26,208.61 L311.67,208.71 L312.08,208.84 L312.49,208.73 L312.89,208.42 L313.30,208.64 L313.71,208.70 L314.12,208.62 L314.52,208.95 L314.93,208.89 L315.34,208.67 L315.75,208.68 L316.15,208.78 L316.56,208.63 L316.97,208.62 L317.38,208.69 L317.79,208.56 L318.19,208.67 L318.60,208.87 L319.01,208.89 L319.42,208.66 L319.82,208.34 L320.23,208.36 L320.64,208.32 L321.05,207.80 L321.45,207.68 L321.86,207.50 L322.27,206.91 L322.68,206.40 L323.09,205.96 L323.49,205.16 L323.90,203.97 L324.31,202.20 L324.72,199.72 L325.12,196.24 L325.53,191.02 L325.94,184.26 L326.35,178.10 L326.75,176.92 L327.16,181.71 L327.57,188.71 L327.98,194.36 L328.39,198.34 L328.79,201.12 L329.20,202.89 L329.61,203.96 L330.02,204.83 L330.42,205.46 L330.83,205.51 L331.24,205.24 L331.65,204.87 L332.05,204.80 L332.46,205.31 L332.87,206.25 L333.28,207.02 L333.69,207.47 L334.09,208.09 L334.50,208.28 L334.91,208.31 L335.32,208.65 L335.72,208.70 L336.13,208.79 L336.54,209.05 L336.95,209.12 L337.35,208.88 L337.76,208.80 L338.17,208.86 L338.58,209.07 L338.99,209.25 L339.39,209.12 L339.80,208.97 L340.21,209.10 L340.62,209.37 L341.02,209.60 L341.43,209.37 L341.84,209.34 L342.25,209.46 L342.65,209.22 L343.06,208.94 L343.47,209.02 L343.88,209.39 L344.29,209.37 L344.69,209.31 L345.10,209.23 L345.51,209.22 L345.92,209.45 L346.32,209.74 L346.73,209.64 L347.14,209.50 L347.55,209.39 L347.96,209.46 L348.36,209.59 L348.77,209.53 L349.18,209.65 L349.59,209.41 L349.99,209.30 L350.40,209.50 L350.81,209.44 L351.22,209.51 L351.62,209.63 L352.03,209.62 L352.44,209.37 L352.85,209.28 L353.26,209.42 L353.66,209.34 L354.07,209.43 L354.48,209.57 L354.89,209.72 L355.29,209.66 L355.70,209.46 L356.11,209.56 L356.52,209.46 L356.92,209.61 L357.33,209.69 L357.74,209.65 L358.15,209.82 L358.56,209.69 L358.96,209.43 L359.37,209.54 L359.78,209.79 L360.19,209.79 L360.59,209.48 L361.00,209.29 L361.41,209.46 L361.82,209.30 L362.22,209.32 L362.63,209.76 L363.04,209.84 L363.45,209.75 L363.86,209.48 L364.26,209.51 L364.67,209.69 L365.08,209.60 L365.49,209.68 L365.89,209.62 L366.30,209.59 L366.71,209.66 L367.12,209.78 L367.52,209.78 L367.93,209.76 L368.34,209.79 L368.75,209.67 L369.16,209.59 L369.56,209.55 L369.97,209.56 L370.38,209.41 L370.79,209.46 L371.19,209.77 L371.60,209.58 L372.01,209.55 L372.42,209.65 L372.82,209.47 L373.23,209.50 L373.64,209.64 L374.05,209.53 L374.46,209.45 L374.86,209.61 L375.27,209.78 L375.68,209.76 L376.09,209.81 L376.49,209.86 L376.90,209.80 L377.31,209.68 L377.72,209.48 L378.12,209.58 L378.53,209.71 L378.94,209.76 L379.35,209.86 L379.76,209.79 L380.16,209.58 L380.57,209.49 L380.98,209.49 L381.39,209.57 L381.79,209.92 L382.20,209.79 L382.61,209.36 L383.02,209.36 L383.43,209.41 L383.83,209.39 L384.24,209.20 L384.65,209.28 L385.06,209.40 L385.46,209.35 L385.87,209.44 L386.28,209.54 L386.69,209.65 L387.09,209.75 L387.50,209.65 L387.91,209.57 L388.32,209.76 L388.73,209.81 L389.13,209.80 L389.54,209.55 L389.95,209.45 L390.36,209.61 L390.76,209.71 L391.17,209.84 L391.58,209.60 L391.99,209.51 L392.39,209.60 L392.80,209.38 L393.21,209.18 L393.62,209.30 L394.03,209.47 L394.43,209.52 L394.84,209.60 L395.25,209.41 L395.66,209.51 L396.06,209.73 L396.47,209.81 L396.88,209.93 L397.29,209.69 L397.69,209.50 L398.10,209.51 L398.51,209.59 L398.92,209.70 L399.33,209.73 L399.73,209.69 L400.14,209.52 L400.55,209.32 L400.96,209.39 L401.36,209.60 L401.77,209.75 L402.18,209.66 L402.59,209.59 L402.99,209.81 L403.40,209.64 L403.81,209.45 L404.22,209.63 L404.63,209.72 L405.03,209.78 L405.44,209.59 L405.85,209.60 L406.26,209.68 L406.66,209.51 L407.07,209.33 L407.48,209.33 L407.89,209.53 L408.29,209.64 L408.70,209.54 L409.11,209.39 L409.52,209.53 L409.93,209.57 L410.33,209.54 L410.74,209.77 L411.15,209.86 L411.56,209.61 L411.96,209.35 L412.37,209.36 L412.78,209.53 L413.19,209.68 L413.59,209.60 L414.00,209.49 L414.41,209.72 L414.82,209.68 L415.23,209.58 L415.63,209.58 L416.04,209.45 L416.45,209.44 L416.86,209.38 L417.26,209.39 L417.67,209.61 L418.08,209.79 L418.49,209.57 L418.89,209.41 L419.30,209.69 L419.71,209.95 L420.12,209.69 L420.53,209.24 L420.93,209.24 L421.34,209.50 L421.75,209.56 L422.16,209.82 L422.56,209.95 L422.97,209.56 L423.38,209.36 L423.79,209.69 L424.19,209.65 L424.60,209.37 L425.01,209.39 L425.42,209.47 L425.83,209.57 L426.23,209.66 L426.64,209.62 L427.05,209.41 L427.46,209.54 L427.86,209.60 L428.27,209.55 L428.68,209.48 L429.09,209.31 L429.50,209.67 L429.90,209.72 L430.31,209.36 L430.72,209.47 L431.13,209.59 L431.53,209.55 L431.94,209.64 L432.35,209.63 L432.76,209.34 L433.16,209.28 L433.57,209.27 L433.98,209.21 L434.39,209.24 L434.80,209.33 L435.20,209.36 L435.61,209.16 L436.02,209.07 L436.43,209.24 L436.83,209.46 L437.24,209.58 L437.65,209.47 L438.06,209.31 L438.46,209.51 L438.87,209.52 L439.28,209.27 L439.69,209.23 L440.10,209.30 L440.50,209.05 L440.91,208.86 L441.32,209.20 L441.73,209.32 L442.13,209.02 L442.54,208.81 L442.95,208.79 L443.36,208.75 L443.76,208.67 L444.17,208.60 L444.58,208.57 L444.99,208.37 L445.40,208.51 L445.80,208.66 L446.21,208.29 L446.62,208.38 L447.03,208.75 L447.43,208.57 L447.84,208.44 L448.25,208.75 L448.66,209.00 L449.06,209.07 L449.47,209.10 L449.88,209.14 L450.29,209.22 L450.70,209.16 L451.10,209.16 L451.51,209.43 L451.92,209.52 L452.33,209.34 L452.73,209.32 L453.14,209.58 L453.55,209.32 L453.96,209.01 L454.36,209.21 L454.77,209.32 L455.18,209.21 L455.59,209.00 L456.00,209.12 L456.40,209.21 L456.81,209.20 L457.22,209.20 L457.63,209.24 L458.03,209.45 L458.44,209.31 L458.85,209.10 L459.26,209.02 L459.66,209.06 L460.07,208.97 L460.48,208.87 L460.89,208.82 L461.30,208.84 L461.70,208.82 L462.11,208.76 L462.52,208.86 L462.93,208.72 L463.33,208.88 L463.74,209.05 L464.15,208.61 L464.56,208.60 L464.97,208.79 L465.37,208.50 L465.78,208.21 L466.19,208.23 L466.60,208.26 L467.00,208.20 L467.41,208.11 L467.82,207.71 L468.23,207.43 L468.63,207.31 L469.04,207.02 L469.45,206.67 L469.86,206.31 L470.27,205.92 L470.67,205.52 L471.08,204.82 L471.49,204.17 L471.90,203.37 L472.30,202.18 L472.71,201.18 L473.12,200.13 L473.53,199.29 L473.93,198.31 L474.34,197.03 L474.75,195.83 L475.16,194.59 L475.57,193.31 L475.97,191.76 L476.38,190.36 L476.79,189.28 L477.20,188.40 L477.60,187.86 L478.01,187.79 L478.42,187.94 L478.83,188.14 L479.23,188.66 L479.64,189.68 L480.05,190.96 L480.46,192.18 L480.87,193.26 L481.27,194.48 L481.68,196.00 L482.09,197.42 L482.50,198.58 L482.90,199.83 L483.31,200.98 L483.72,201.86 L484.13,202.80 L484.53,203.53 L484.94,204.14 L485.35,204.48 L485.76,205.07 L486.17,205.80 L486.57,206.31 L486.98,206.92 L487.39,207.02 L487.80,206.89 L488.20,207.34 L488.61,207.74 L489.02,207.67 L489.43,207.78 L489.83,208.26 L490.24,208.26 L490.65,208.11 L491.06,208.21 L491.47,208.36 L491.87,208.40 L492.28,208.23 L492.69,208.44 L493.10,208.54 L493.50,208.56 L493.91,208.70 L494.32,208.75 L494.73,208.77 L495.13,208.76 L495.54,208.61 L495.95,208.57 L496.36,208.82 L496.77,208.66 L497.17,208.48 L497.58,208.52 L497.99,208.57 L498.40,208.59 L498.80,208.57 L499.21,208.72 L499.62,208.67 L500.03,208.51 L500.43,208.46 L500.84,208.34 L501.25,208.47 L501.66,208.46 L502.07,208.28 L502.47,208.26 L502.88,208.03 L503.29,207.90 L503.70,207.91 L504.10,207.73 L504.51,207.56 L504.92,207.43 L505.33,207.18 L505.74,207.20 L506.14,207.34 L506.55,207.19 L506.96,206.90 L507.37,206.79 L507.77,206.92 L508.18,207.07 L508.59,207.00 L509.00,206.88 L509.40,206.70 L509.81,206.60 L510.22,206.59 L510.63,206.63 L511.04,206.60 L511.44,206.65 L511.85,206.84 L512.26,206.97 L512.67,207.08 L513.07,207.04 L513.48,207.12 L513.89,207.22 L514.30,207.49 L514.70,207.70 L515.11,207.59 L515.52,207.73 L515.93,208.05 L516.34,208.22 L516.74,208.37 L517.15,208.44 L517.56,208.34 L517.97,208.40 L518.37,208.64 L518.78,208.85 L519.19,209.03 L519.60,208.77 L520.00,208.76 L520.41,209.05 L520.82,209.10 L521.23,209.13 L521.64,209.16 L522.04,209.20 L522.45,209.03 L522.86,209.15 L523.27,209.26 L523.67,209.21 L524.08,209.21 L524.49,209.29 L524.90,209.33 L525.30,209.38 L525.71,209.62 L526.12,209.67 L526.53,209.59 L526.94,209.58 L527.34,209.52 L527.75,209.30 L528.16,209.39 L528.57,209.47 L528.97,209.34 L529.38,209.47 L529.79,209.59 L530.20,209.48 L530.60,209.34 L531.01,209.42 L531.42,209.49 L531.83,209.47 L532.24,209.59 L532.64,209.58 L533.05,209.42 L533.46,209.26 L533.87,209.43 L534.27,209.70 L534.68,209.57 L535.09,209.54 L535.50,209.60 L535.90,209.54 L536.31,209.53 L536.72,209.54 L537.13,209.47 L537.54,209.64 L537.94,209.63 L538.35,209.70 L538.76,209.59 L539.17,209.26 L539.57,209.50 L539.98,209.50 L540.39,209.45 L540.80,209.52 L541.20,209.43 L541.61,209.44 L542.02,209.52 L542.43,209.49 L542.84,209.51 L543.24,209.62 L543.65,209.70 L544.06,209.85 L544.47,209.59 L544.87,209.33 L545.28,209.64 L545.69,209.68 L546.10,209.51 L546.50,209.78 L546.91,209.89" stroke="#8C1DA0"/>
  </g>
  <g font-size="9.8" fill="#2a2a2a"><text x="292.0" y="226.2" textLength="20.8" lengthAdjust="spacingAndGlyphs">1400</text><text x="346.3" y="226.2" textLength="20.8" lengthAdjust="spacingAndGlyphs">1800</text><text x="400.7" y="226.2" textLength="20.8" lengthAdjust="spacingAndGlyphs">2200</text><text x="455.1" y="226.2" textLength="20.8" lengthAdjust="spacingAndGlyphs">2600</text><text x="509.4" y="226.2" textLength="20.8" lengthAdjust="spacingAndGlyphs">3000</text><text x="278" y="213.3" text-anchor="end">0</text><text x="278" y="179.3" text-anchor="end">1</text><text x="278" y="145.3" text-anchor="end">2</text><text x="278" y="111.3" text-anchor="end">3</text><text x="278" y="77.3" text-anchor="end">4</text><text x="278" y="43.3" text-anchor="end">5</text><text x="278" y="9.3" text-anchor="end">6</text></g>
  <text x="415" y="238.7" font-size="11.3" fill="#262626" text-anchor="middle">Wavenumber (cm<tspan font-size="8.6" dy="-4.2" font-weight="bold">-1</tspan><tspan dy="4.2">)</tspan></text>
  <text transform="translate(267,105) rotate(-90)" font-size="11" fill="#262626" text-anchor="middle">Intensity (a.u.)</text>
  <text x="260" y="22" font-size="13.5" font-weight="bold" fill="#222">(b)</text>
  <!-- legend -->
  <rect x="341" y="9.7" width="113.6" height="42.3" fill="#fff" stroke="#3a3a3a" stroke-width="0.7"/>
  <g stroke-width="2.2" fill="none">
    <path d="M345,15.6 h18" stroke="#0A70C4"/>
    <path d="M345,25.8 h18" stroke="#F64C18"/>
    <path d="M345,36 h18" stroke="#FDAA0C"/>
    <path d="M345,46.2 h18" stroke="#8C1DA0"/>
  </g>
  <g font-size="9.2" fill="#262626">
    <text x="365" y="18.8">4: Thick, suspended</text>
    <text x="365" y="29">3: Thick, on substrate</text>
    <text x="365" y="39.2">2: Thin, suspended</text>
    <text x="365" y="49.4">1: Thin, on substrate</text>
  </g>
</g>
</svg>
</body>
</html>
